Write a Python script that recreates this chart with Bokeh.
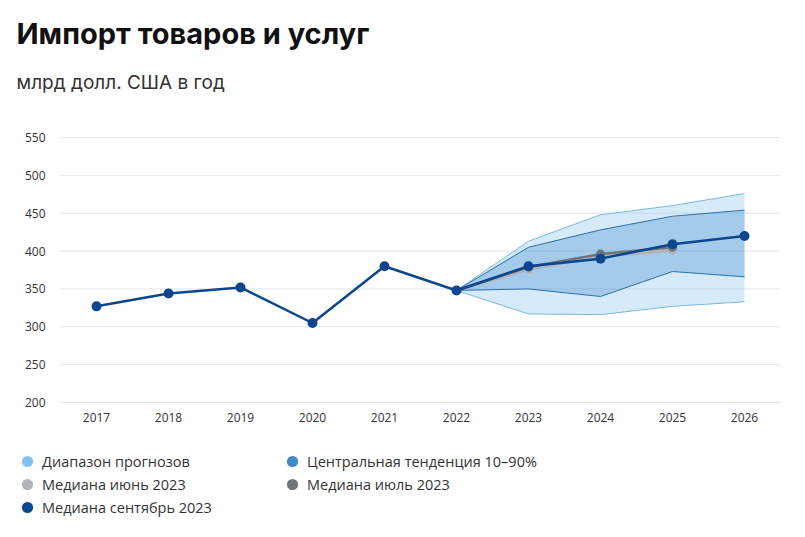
import math
from bokeh.plotting import figure
from bokeh.models import Label, Legend, LegendItem, Range1d, FixedTicker
from bokeh.embed import file_html
from bokeh.resources import INLINE

# ---- data ----
years = [2017, 2018, 2019, 2020, 2021, 2022, 2023, 2024, 2025, 2026]
median_sep = [327, 344, 352, 305, 380, 348, 380, 390, 409, 420]

fc_years = [2022, 2023, 2024, 2025, 2026]
range_low = [348, 317, 316, 327, 333]
range_high = [348, 413, 448, 460, 476]
central_low = [348, 350, 340, 373, 366]
central_high = [348, 405, 428, 446, 454]

jj_years = [2022, 2023, 2024, 2025]
median_jun = [348, 376, 393, 401]
median_jul = [348, 379, 396, 405]

y_ticks = [200, 250, 300, 350, 400, 450, 500, 550]

title_text = "Импорт товаров и услуг"
subtitle_text = "млрд долл. США в год"
legend_labels = ["Диапазон прогнозов", "Центральная тенденция 10–90%",
                 "Медиана июнь 2023", "Медиана июль 2023", "Медиана сентябрь 2023"]

# ---- styles ----
C_RANGE = "#87c6f0"
C_RANGE_EDGE = "#7ab8e2"
C_CENTRAL = "#3f8ccc"
C_CENTRAL_EDGE = "#2f6fad"
C_JUN = "#b0b3ba"
C_JUL = "#6e737c"
C_SEP = "#0c468e"
LEG_RANGE = "#80c3ee"
LEG_CENTRAL = "#3f87c5"
TXT = "#333333"
GRID = "#e2e5ea"

# ---- layout (pixels) ----
W, H = 789, 521
PL, PR, PT, PB = 60, 780, 137, 402      # plotting area inside the canvas
X0, X1 = 2016.5, 2026.5                 # visible year span of plotting area
Y0, Y1 = 200, 550                       # value span of plotting area

xs = (X1 - X0) / (PR - PL)
ys = (Y1 - Y0) / (PB - PT)
x_range = Range1d(X0 - PL * xs, X1 + (W - PR) * xs)
y_range = Range1d(Y0 - (H - PB) * ys, Y1 + PT * ys)

p = figure(width=W, height=H, output_backend="svg", toolbar_location=None,
           x_range=x_range, y_range=y_range, min_border=0,
           min_border_left=0, min_border_right=0, min_border_top=0,
           min_border_bottom=0)
p.outline_line_color = None
p.xgrid.visible = False
p.ygrid.visible = False

# axes drawn at the edges of the plotting area
p.xaxis.fixed_location = Y0
p.yaxis.fixed_location = X0
p.yaxis.ticker = FixedTicker(ticks=y_ticks)
p.xaxis.ticker = FixedTicker(ticks=years)
for ax in (p.xaxis[0], p.yaxis[0]):
    ax.axis_line_color = None
    ax.major_tick_line_color = None
    ax.minor_tick_line_color = None
    ax.major_label_text_font = "Open Sans"
    ax.major_label_text_font_size = "12px"
    ax.major_label_text_color = TXT
p.yaxis.major_label_standoff = 9
p.xaxis.major_label_standoff = 4

# horizontal grid lines limited to the plotting area
p.segment(x0=[X0] * len(y_ticks), x1=[X1] * len(y_ticks), y0=y_ticks, y1=y_ticks,
          line_color=GRID, line_width=1)

# bands
p.varea(x=fc_years, y1=range_low, y2=range_high, fill_color=C_RANGE, fill_alpha=0.35)
p.line(fc_years, range_high, line_color=C_RANGE_EDGE, line_width=1)
p.line(fc_years, range_low, line_color=C_RANGE_EDGE, line_width=1)
p.varea(x=fc_years, y1=central_low, y2=central_high, fill_color=C_CENTRAL, fill_alpha=0.33)
p.line(fc_years, central_high, line_color=C_CENTRAL_EDGE, line_width=1)
p.line(fc_years, central_low, line_color=C_CENTRAL_EDGE, line_width=1)

# medians
p.line(jj_years, median_jun, line_color=C_JUN, line_width=3)
p.scatter(jj_years, median_jun, size=9, fill_color=C_JUN, line_color=None)
p.line(jj_years, median_jul, line_color=C_JUL, line_width=2.5)
p.scatter(jj_years, median_jul, size=9, fill_color=C_JUL, line_color=None)
p.line(years, median_sep, line_color=C_SEP, line_width=2.5)
p.scatter(years, median_sep, size=10, fill_color=C_SEP, line_color=None)

# title / subtitle
p.add_layout(Label(x=16, y=H - 33, x_units="screen", y_units="screen",
                   text=title_text, text_font="Inter", text_font_style="bold",
                   text_font_size="29px", text_color="#111111",
                   text_baseline="middle"))
p.add_layout(Label(x=16, y=H - 82, x_units="screen", y_units="screen",
                   text=subtitle_text, text_font="Inter",
                   text_font_size="19px", text_color=TXT,
                   text_baseline="middle"))

# legend: one legend per entry, swatches have no plotted points
leg_colors = [LEG_RANGE, LEG_CENTRAL, C_JUN, C_JUL, C_SEP]
leg_pos = [(13, 46), (278, 46), (13, 23), (278, 23), (13, 0)]
for lab, col, pos in zip(legend_labels, leg_colors, leg_pos):
    r = p.scatter(x=[math.nan], y=[math.nan], size=12, fill_color=col, line_color=None)
    lg = Legend(items=[LegendItem(label=lab, renderers=[r])], location=pos,
                glyph_width=28, glyph_height=28, label_height=28, label_standoff=1,
                padding=0, margin=0, border_line_color=None,
                background_fill_alpha=0, label_text_font="Open Sans",
                label_text_font_size="14.5px", label_text_color=TXT)
    p.add_layout(lg, "center")

open("out.html", "w").write(file_html(p, INLINE))
